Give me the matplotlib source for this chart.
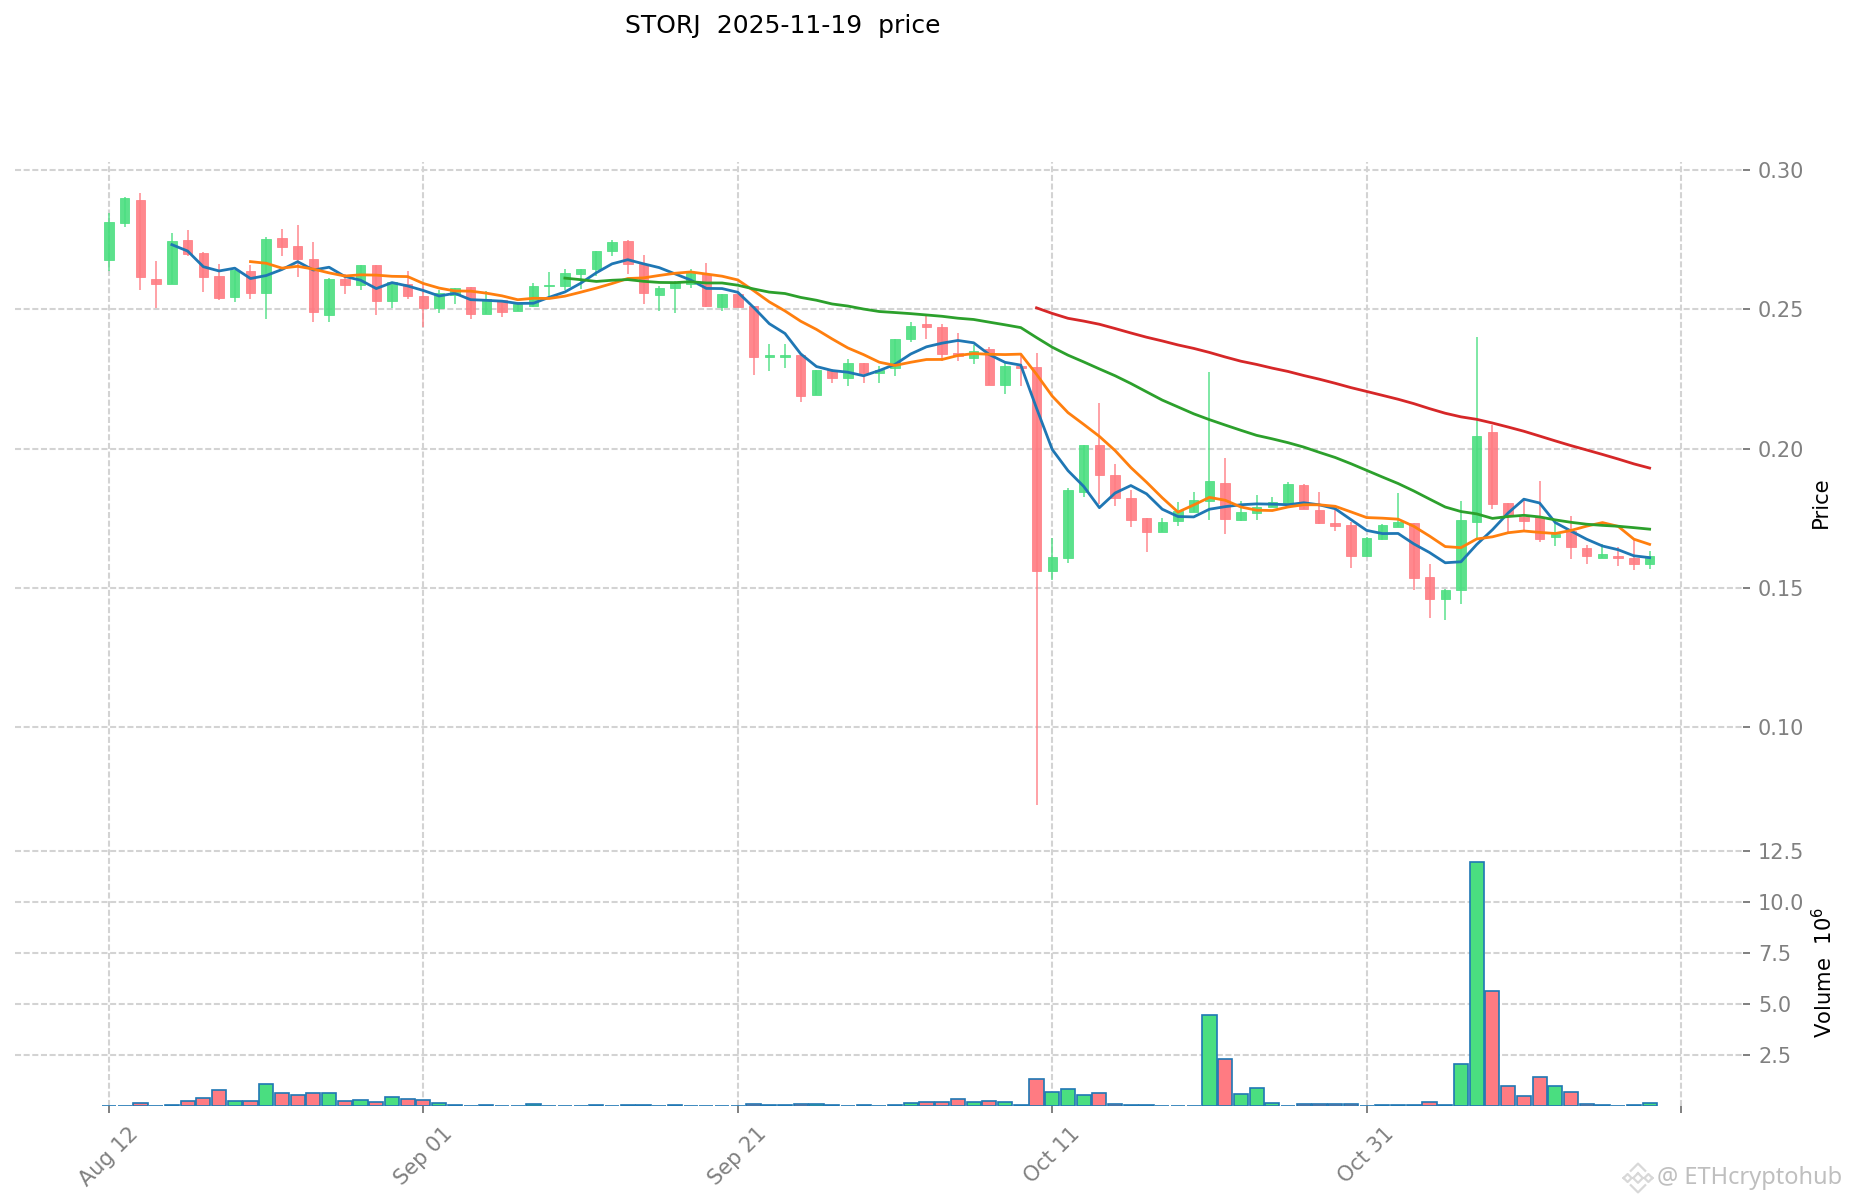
import matplotlib
matplotlib.use('Agg')
import matplotlib.pyplot as plt
import numpy as np
import pandas as pd

dates = pd.date_range('2025-08-12', periods=99, freq='D')
opens = [.2678,.2810,.2894,.2608,.2590,.2748,.2701,.2618,.2544,.2636,.2558,.2755,.2726,.2680,.2479,.2608,.2587,.2658,.2530,.2592,
         .2546,.2504,.2552,.2579,.2483,.2535,.2493,.2513,.2582,.2585,.2625,.2643,.2709,.2744,.2663,.2550,.2576,.2591,.2627,.2510,
         .2555,.2513,.2330,.2330,.2337,.2194,.2282,.2255,.2307,.2273,.2289,.2392,.2446,.2436,.2342,.2325,.2356,.2229,.2297,.2293,
         .1559,.1609,.1844,.2014,.1907,.1822,.1751,.1701,.1741,.1771,.1813,.1875,.1744,.1769,.1790,.1800,.1868,.1779,.1732,.1725,
         .1615,.1675,.1719,.1734,.1538,.1460,.1494,.1737,.2060,.1804,.1755,.1755,.1683,.1705,.1645,.1608,.1616,.1609,.1586]
highs = [.2846,.2904,.2918,.2674,.2774,.2786,.2705,.2664,.2642,.2659,.2760,.2789,.2803,.2742,.2614,.2628,.2658,.2660,.2597,.2638,
         .2592,.2570,.2578,.2579,.2566,.2535,.2519,.2594,.2633,.2646,.2645,.2711,.2750,.2750,.2694,.2584,.2603,.2645,.2667,.2555,
         .2561,.2513,.2375,.2375,.2337,.2283,.2285,.2321,.2307,.2295,.2394,.2453,.2479,.2449,.2416,.2371,.2363,.2306,.2336,.2342,
         .1678,.1857,.2014,.2163,.1945,.1851,.1751,.1751,.1809,.1846,.2276,.1967,.1812,.1834,.1828,.1880,.1874,.1845,.1779,.1737,
         .1681,.1729,.1842,.1734,.1587,.1497,.1813,.2401,.2085,.1804,.1815,.1885,.1737,.1759,.1653,.1659,.1647,.1671,.1633]
lows = [.2638,.2794,.2570,.2506,.2590,.2690,.2563,.2534,.2527,.2538,.2466,.2693,.2616,.2455,.2453,.2556,.2570,.2480,.2506,.2538,
        .2438,.2488,.2520,.2466,.2483,.2471,.2493,.2507,.2543,.2570,.2573,.2621,.2690,.2625,.2519,.2495,.2488,.2577,.2507,.2495,
        .2510,.2264,.2279,.2289,.2169,.2194,.2237,.2225,.2237,.2234,.2261,.2384,.2395,.2314,.2316,.2304,.2227,.2197,.2223,.0720,
        .1530,.1590,.1828,.1800,.1794,.1717,.1628,.1701,.1721,.1771,.1743,.1693,.1741,.1743,.1790,.1800,.1782,.1729,.1704,.1573,
        .1615,.1671,.1719,.1491,.1393,.1383,.1443,.1677,.1782,.1702,.1707,.1663,.1652,.1605,.1584,.1608,.1579,.1566,.1569]
closes = [.2812,.2898,.2616,.2590,.2744,.2698,.2616,.2540,.2640,.2558,.2752,.2724,.2681,.2490,.2608,.2586,.2658,.2530,.2597,.2548,
          .2504,.2560,.2578,.2483,.2536,.2489,.2519,.2582,.2589,.2632,.2645,.2708,.2742,.2663,.2558,.2577,.2597,.2630,.2513,.2555,
          .2510,.2327,.2337,.2337,.2189,.2283,.2255,.2307,.2273,.2283,.2394,.2441,.2436,.2339,.2331,.2352,.2229,.2297,.2289,.1559,
          .1610,.1850,.2014,.1907,.1822,.1744,.1701,.1738,.1776,.1815,.1882,.1747,.1772,.1792,.1810,.1872,.1782,.1734,.1723,.1615,
          .1678,.1725,.1736,.1536,.1460,.1494,.1743,.2046,.1800,.1762,.1741,.1675,.1695,.1647,.1615,.1620,.1608,.1586,.1614]
# volume in millions
volumes = [.02,.02,.16,.02,.07,.24,.41,.80,.24,.24,1.09,.65,.56,.65,.65,.24,.31,.21,.46,.36,
           .31,.16,.03,.01,.03,.01,.01,.11,.02,.02,.02,.06,.02,.05,.05,.02,.06,.02,.02,.02,
           .01,.11,.05,.05,.11,.11,.05,.02,.05,.02,.05,.16,.20,.20,.36,.20,.24,.20,.05,1.34,
           .69,.85,.56,.65,.11,.05,.05,.02,.02,.02,4.44,2.32,.60,.90,.15,.02,.11,.11,.11,.11,
           .02,.06,.06,.06,.20,.06,2.07,11.96,5.64,.98,.51,1.44,.98,.69,.11,.06,.02,.06,.15]
price_ticks = [0.10, 0.15, 0.20, 0.25, 0.30]
volume_ticks = [2.5, 5.0, 7.5, 10.0, 12.5]
ma_windows = [5, 10, 30, 60]
ma_colors = ['#1f77b4', '#ff7f0e', '#2ca02c', '#d62728']

W, H = 1852, 1202
UP = '#4ade80'
DOWN = '#ff7b82'
GRID = '#d3d3d3'
TICK = '#808080'
DASH = (0, (2.9, 1.25))

plt.rcParams['font.family'] = 'DejaVu Sans'
fig = plt.figure(figsize=(W / 200, H / 200), dpi=200)


def add_axes(left, right, top, bottom):
    return fig.add_axes([left / W, 1 - bottom / H, (right - left) / W, (bottom - top) / H])


ax = add_axes(15, 1743, 162, 838)
vax = add_axes(15, 1743, 838, 1106)

x = np.arange(len(dates))
up = np.array(closes) >= np.array(opens)
colors = [UP if u else DOWN for u in up]

# wicks then bodies
ax.vlines(x, lows, highs, colors=colors, linewidth=0.55, alpha=0.9, zorder=2)
body_low = np.minimum(opens, closes)
body_h = np.abs(np.array(closes) - np.array(opens))
ax.bar(x, body_h, bottom=body_low, width=0.6, color=colors, edgecolor=colors, linewidth=0.3, alpha=0.9, zorder=3)

# moving averages of the closes, same as the source chart
for w, c in zip(ma_windows, ma_colors):
    ax.plot(x, pd.Series(closes).rolling(w).mean(), color=c, linewidth=1.0, zorder=4)

vax.bar(x, volumes, width=0.9, color=colors, edgecolor='#1f77b4', linewidth=0.6, zorder=3)

for a in (ax, vax):
    a.set_xlim(-5.98, 103.94)
    a.set_xticks([0, 20, 40, 60, 80, 100])
    a.yaxis.tick_right()
    a.grid(True, color=GRID, linestyle=DASH, linewidth=0.75)
    a.set_axisbelow(True)
    for s in a.spines.values():
        s.set_visible(False)
    a.tick_params(axis='y', colors=TICK, labelsize=7.5, width=0.7, length=2.5, pad=2.9)
    a.tick_params(axis='x', colors=TICK, labelsize=7.5, width=0.7, length=2.5, pad=4)

ax.set_ylim(0.30 - (838 - 170) / 139.3 * 0.05, 0.30 + (170 - 162) / 139.3 * 0.05)
ax.set_yticks(price_ticks)
ax.set_yticklabels(['%.2f' % v for v in price_ticks])
ax.tick_params(axis='x', length=0, labelbottom=False)

vax.set_ylim(0, (1106 - 838) / 51 * 2.5)
vax.set_yticks(volume_ticks)
vax.set_yticklabels(['%.1f' % v for v in volume_ticks])
tick_dates = [dates[0] + pd.Timedelta(days=20 * i) for i in range(5)]
vax.set_xticklabels([d.strftime('%b %d') for d in tick_dates] + [''], rotation=45, ha='center')

fig.text(783 / W, 1 - 26 / H, 'STORJ  2025-11-19  price', ha='center', va='center', fontsize=9.0, color='black')
fig.text(1821 / W, 1 - 502 / H, 'Price', rotation=90, ha='center', va='center', fontsize=7.6, color='black')
fig.text(1824 / W, 1 - 972 / H, 'Volume  $10^{6}$', rotation=90, ha='center', va='center', fontsize=7.6, color='black')

# watermark
fig.text(1657 / W, 1 - 1178 / H, '@ ETHcryptohub', ha='left', va='center', fontsize=8.5,
         family='Noto Sans', color='#808080', alpha=0.5)
logo = fig.add_axes([1622 / W, 1 - 1194 / H, 32 / W, 32 / H])
logo.axis('off')
logo.set_xlim(-1, 1)
logo.set_ylim(-1, 1)
wm = dict(color='#808080', alpha=0.3, linewidth=0.8)
logo.plot([-0.45, 0, 0.45], [0.45, 0.9, 0.45], **wm)
logo.plot([-0.45, 0, 0.45], [-0.45, -0.9, -0.45], **wm)
logo.plot([0, 0.3, 0, -0.3, 0], [0.3, 0, -0.3, 0, 0.3], **wm)
logo.plot([-0.9, -0.65, -0.4, -0.65, -0.9], [0, 0.25, 0, -0.25, 0], **wm)
logo.plot([0.9, 0.65, 0.4, 0.65, 0.9], [0, 0.25, 0, -0.25, 0], **wm)

fig.savefig('out.png', dpi=200)
